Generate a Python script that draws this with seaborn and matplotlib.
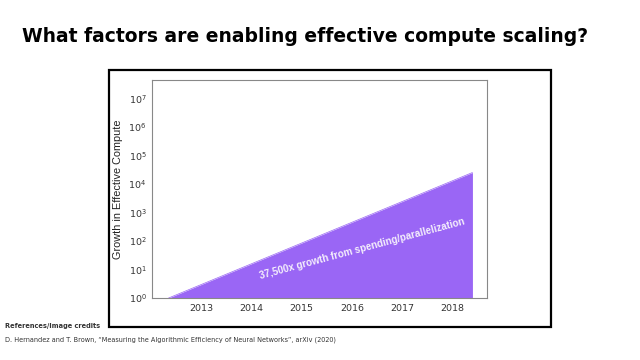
import matplotlib
matplotlib.use("Agg")
import matplotlib.pyplot as plt
import seaborn as sns
import pandas as pd
from matplotlib.patches import Rectangle

# data
years = [2012.35, 2018.4]
growth = [1.0, 25000.0]
year_ticks = [2013, 2014, 2015, 2016, 2017, 2018]
decades = [1e0, 1e1, 1e2, 1e3, 1e4, 1e5, 1e6, 1e7]
label_text = "37,500x growth from spending/parallelization"

df = pd.DataFrame({"year": years, "growth": growth})

sns.set_style("white")
plt.rcParams["font.family"] = ["DejaVu Sans"]

fig = plt.figure(figsize=(6.4, 3.6), dpi=100)
ax = fig.add_axes([152 / 640, 1 - 298 / 360, 335 / 640, 218 / 360])

purple = "#9a66f5"
sns.lineplot(data=df, x="year", y="growth", color=purple, linewidth=0.5, ax=ax)
ax.fill_between(df["year"], 1, df["growth"], color=purple, linewidth=0)

ax.set_yscale("log")
ax.set_ylim(1, 10 ** 7.64)
ax.set_xlim(2012.02, 2018.69)
ax.set_xticks(year_ticks)
ax.set_xticklabels([str(y) for y in year_ticks])
ax.set_yticks(decades)
ax.minorticks_off()
ax.set_xlabel("")
ax.set_ylabel("Growth in Effective Compute", fontsize=7.8, color="#222222",
              labelpad=4, family=["Liberation Sans"])
ax.tick_params(axis="both", labelsize=6.8, colors="#333333", length=2, pad=2)
for s in ax.spines.values():
    s.set_color("#888888")
    s.set_linewidth(0.8)

ax.text(2016.2, 55, label_text, rotation=15, fontsize=7.1, color="#f4eefc",
        ha="center", va="center", fontweight="bold", family=["Liberation Sans"])

# outer black frame
fig.patches.append(Rectangle((109 / 640, 1 - 327 / 360), 442 / 640, 257 / 360,
                             transform=fig.transFigure, fill=False,
                             edgecolor="black", linewidth=1.6))

fig.text(22 / 640, 1 - 36 / 360, "What factors are enabling effective compute scaling?",
         fontsize=13.5, fontweight="bold", ha="left", va="center", color="black")
fig.text(5 / 640, 1 - 326 / 360, "References/Image credits", fontsize=4.8,
         fontweight="bold", color="#333333", ha="left", va="center")
fig.text(5 / 640, 1 - 340 / 360,
         "D. Hernandez and T. Brown, \u201cMeasuring the Algorithmic Efficiency of Neural Networks\u201d, arXiv (2020)",
         fontsize=4.7, color="#333333", ha="left", va="center")

fig.savefig("out.png", dpi=100)
